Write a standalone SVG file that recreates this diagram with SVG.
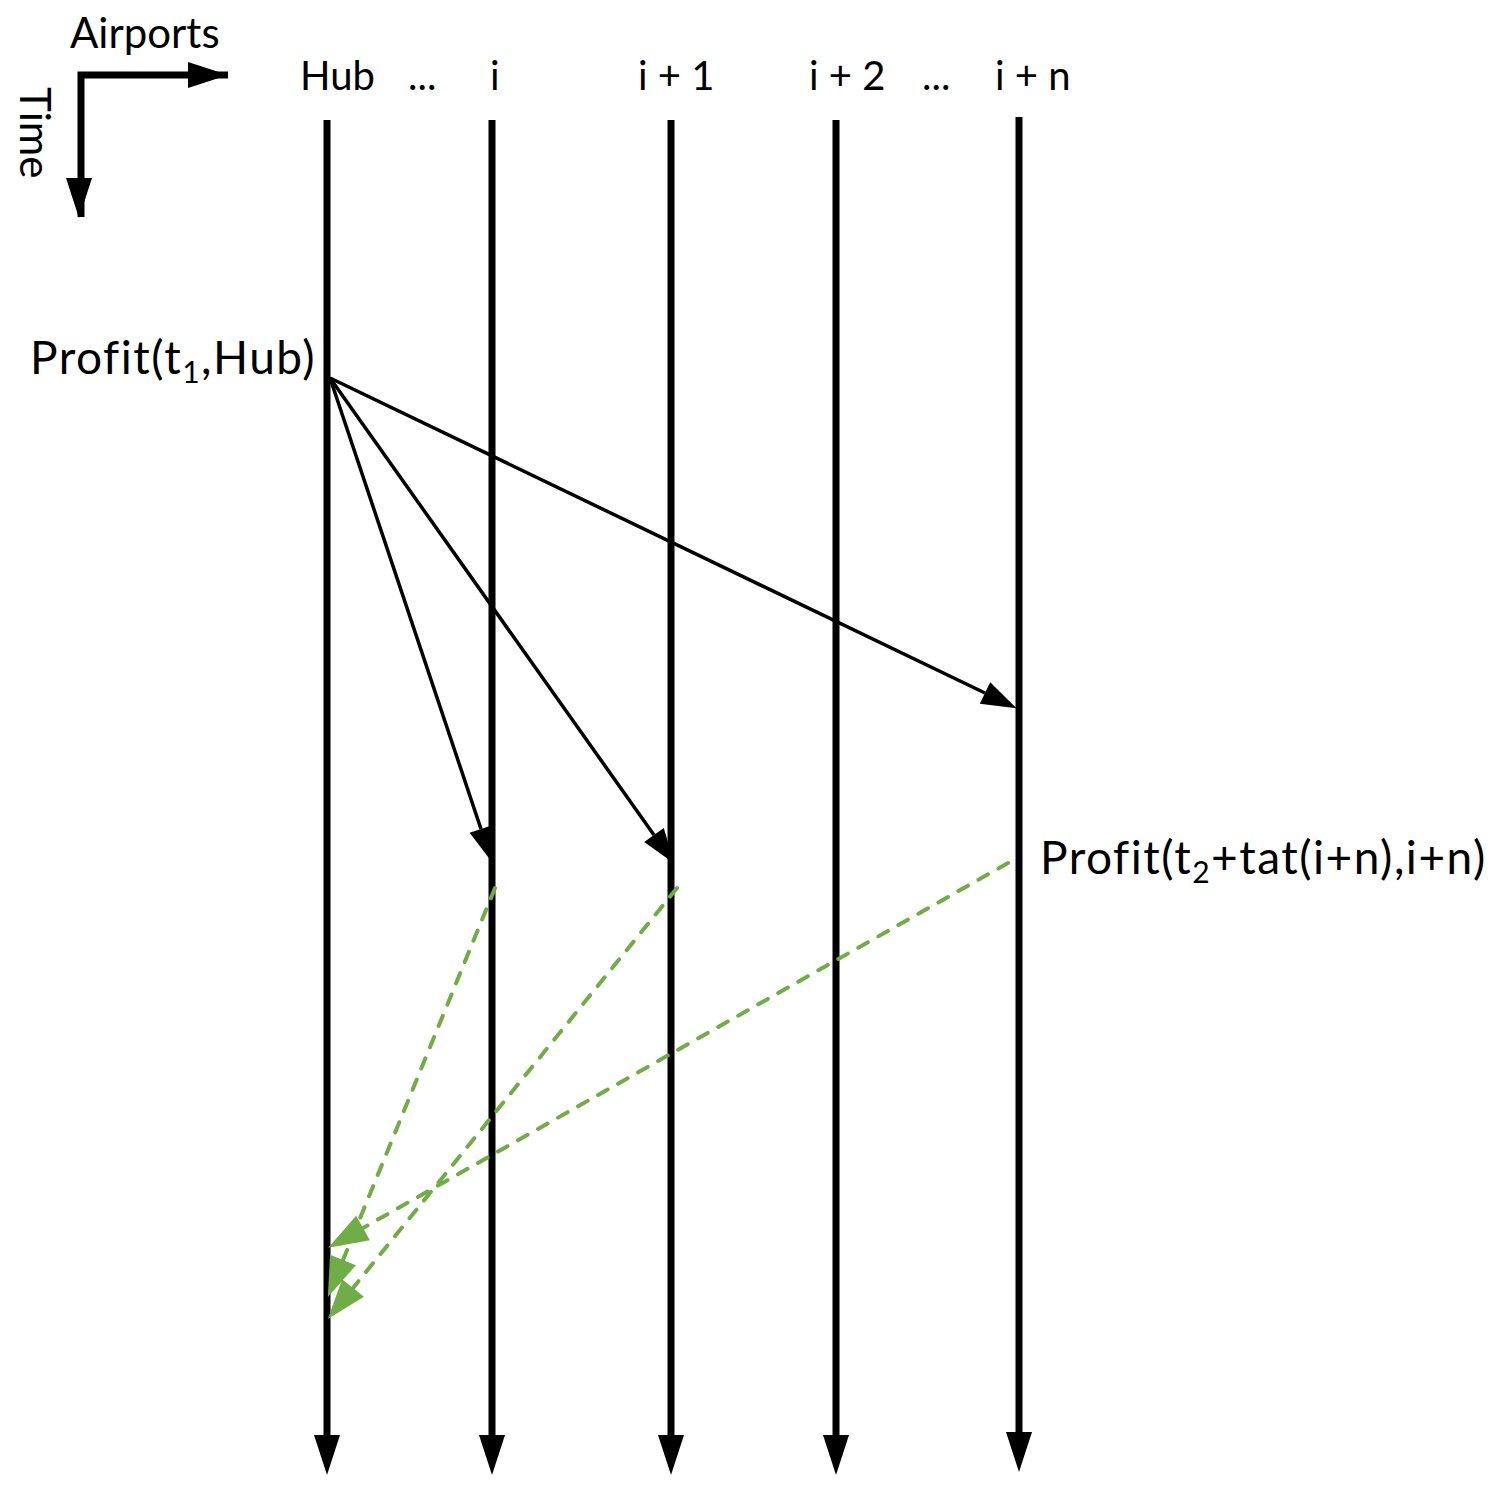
<svg xmlns="http://www.w3.org/2000/svg" width="1498" height="1488" viewBox="0 0 1498 1488">
<style>
  text { font-family: Lato, "Open Sans", "Liberation Sans", sans-serif; font-size: 40px; fill: #000; font-variant-ligatures: none; }
  .legend { font-size: 42px; }
  .big { font-size: 46px; letter-spacing: 1.5px; }
  .axis { stroke: #000; stroke-width: 7; fill: none; }
  .flight { stroke: #000; stroke-width: 3.5; fill: none; }
  .ret { stroke: #70AD47; stroke-width: 4; fill: none; stroke-dasharray: 11 12; stroke-linecap: round; }
</style>
<defs>
  <marker id="bigHead" markerUnits="userSpaceOnUse" markerWidth="40" markerHeight="26" refX="0" refY="13" orient="auto" overflow="visible">
    <path d="M0,0 L40,13 L0,26 Z" fill="#000"/>
  </marker>
  <marker id="blkHead" markerUnits="userSpaceOnUse" markerWidth="35" markerHeight="24" refX="0" refY="12" orient="auto" overflow="visible">
    <path d="M0,0 L35,12 L0,24 Z" fill="#000"/>
  </marker>
  <marker id="grnHead" markerUnits="userSpaceOnUse" markerWidth="40" markerHeight="28" refX="0" refY="14" orient="auto" overflow="visible">
    <path d="M0,0 L40,14 L0,28 Z" fill="#70AD47"/>
  </marker>
</defs>

<g id="legend">
  <path class="axis" d="M81,217 L81,75 L228,75" stroke-linejoin="miter"/>
  <path d="M188,62 L228,75 L188,88 Z" fill="#000"/>
  <path d="M66,178 L79,218 L92,178 Z" fill="#000"/>
  <text class="legend" x="70" y="48">Airports</text>
  <text class="legend" transform="translate(20,87) rotate(90)">Time</text>
</g>

<g id="airport-labels">
  <text x="300" y="90">Hub</text>
  <text x="408" y="90">...</text>
  <text x="490" y="90">i</text>
  <text x="638" y="90">i + 1</text>
  <text x="809" y="90">i + 2</text>
  <text x="922" y="90">...</text>
  <text x="995" y="90">i + n</text>
</g>

<g id="timelines">
  <g id="line-hub"><path class="axis" d="M327,120 L327,1435" marker-end="url(#bigHead)"/></g>
  <g id="line-i"><path class="axis" d="M492,120 L492,1435" marker-end="url(#bigHead)"/></g>
  <g id="line-i1"><path class="axis" d="M671,120 L671,1435" marker-end="url(#bigHead)"/></g>
  <g id="line-i2"><path class="axis" d="M836,120 L836,1435" marker-end="url(#bigHead)"/></g>
  <g id="line-in"><path class="axis" d="M1019,117 L1019,1432" marker-end="url(#bigHead)"/></g>
</g>

<g id="node-profit-hub">
  <text class="big" x="30" y="374">Profit(t<tspan font-size="30" dy="9">1</tspan><tspan dy="-9">,Hub)</tspan></text>
</g>
<g id="node-profit-in">
  <text class="big" x="1040" y="874">Profit(t<tspan font-size="30" dy="9">2</tspan><tspan dy="-9">+tat(i+n),i+n)</tspan></text>
</g>

<g id="connectors">
  <path class="flight" d="M330,378 L481,829" marker-end="url(#blkHead)"/>
  <path class="flight" d="M330,378 L654,835" marker-end="url(#blkHead)"/>
  <path class="flight" d="M330,378 L985,693" marker-end="url(#blkHead)"/>
  <path class="ret" d="M495,888 L343,1260" marker-end="url(#grnHead)"/>
  <path class="ret" d="M677,888 L353,1288" marker-end="url(#grnHead)"/>
  <path class="ret" d="M1008,863 L363,1228" marker-end="url(#grnHead)"/>
</g>
</svg>
